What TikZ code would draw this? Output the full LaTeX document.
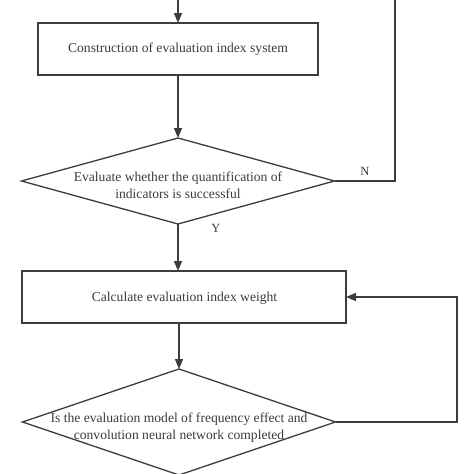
\documentclass[tikz,border=0pt]{standalone}
\usepackage{fontspec}
\setmainfont{Liberation Serif}
\usetikzlibrary{arrows.meta,shapes.geometric}
\definecolor{ink}{HTML}{3C3C3C}
\tikzset{
  base/.style={draw=ink, line width=1.3pt, inner sep=0pt, outer sep=0pt},
  procbox/.style={base, rectangle},
  decide/.style={base, diamond},
  txt/.style={text=ink, font=\fontsize{13.6}{17}\selectfont, align=center},
  lbl/.style={text=ink, font=\fontsize{12.5}{14}\selectfont},
  flow/.style={draw=ink, line width=1.3pt, -{Triangle[length=10pt,width=8pt]}},
  plain/.style={draw=ink, line width=1.3pt}
}
\begin{document}
\begin{tikzpicture}[x=1pt,y=-1pt]
\useasboundingbox (0,0) rectangle (474,474);
\clip (0,0) rectangle (474,474);
\fill[white] (0,0) rectangle (474,474);
\coordinate (start) at (178,-5);
\coordinate (up) at (395,-5);
\coordinate (right2) at (457,422);
\node[procbox, minimum width=280pt, minimum height=52pt] (box1) at (178,49) {};
\node[txt] (box1t) at (178,49) {Construction of evaluation index system};
\node[decide, minimum width=313pt, minimum height=86pt] (d1) at (178,181) {};
\node[txt] (d1t) at (178,185.5) {Evaluate whether the quantification of\\indicators is successful};
\node[procbox, minimum width=324pt, minimum height=52pt] (box2) at (184,297) {};
\node[txt] (box2t) at (184.5,298) {Calculate evaluation index weight};
\node[decide, minimum width=313pt, minimum height=106pt] (d2) at (179,422) {};
\node[txt] (d2t) at (179,428) {Is the evaluation model of frequency effect and\\convolution neural network completed};
\node[lbl] (nl) at (365,171) {N};
\node[lbl] (yl) at (216,228) {Y};
\draw[flow] (start) -- (box1.north);
\draw[flow] (box1.south) -- (d1.north);
\draw[flow] (d1.south) -- (d1.south |- box2.north);
\draw[flow] (d2.north |- box2.south) -- (d2.north);
\draw[plain] (d1.east) -| (up);
\draw[flow] (d2.east) -- (right2) |- (box2.east);
\end{tikzpicture}
\end{document}
